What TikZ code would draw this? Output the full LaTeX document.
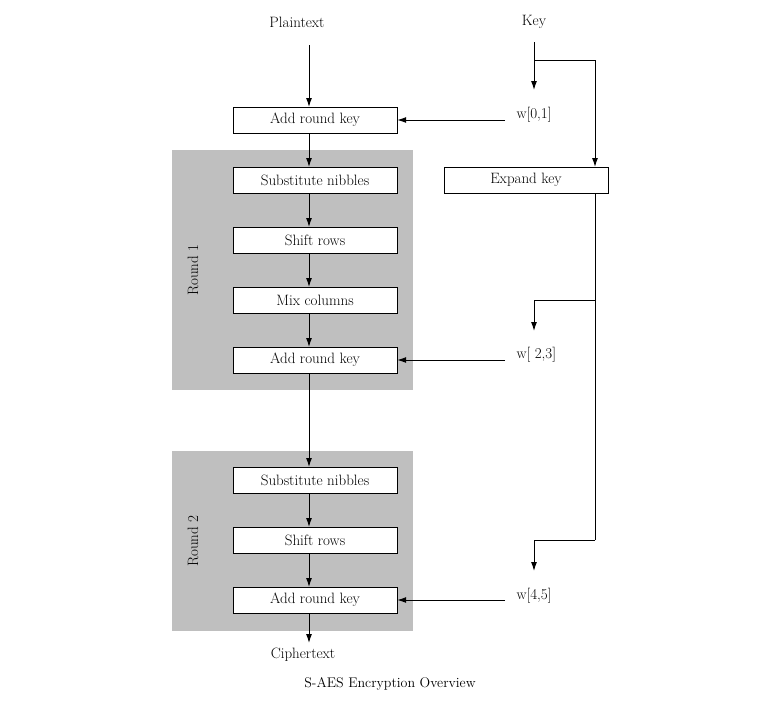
\documentclass[tikz,border=0pt]{standalone}
\usetikzlibrary{arrows.meta}
\begin{document}
\begin{tikzpicture}[x=1pt,y=-1pt,
  box/.style={draw,fill=white,minimum width=164pt,minimum height=26pt,inner sep=0pt,font=\fontsize{15}{17}\selectfont},
  lbl/.style={font=\fontsize{15}{17}\selectfont},
  arr/.style={-{Latex[length=9pt,width=6pt]},line width=1pt},
  ln/.style={line width=1pt},
  round/.style={fill=black!25,draw=none}]
\useasboundingbox (0,0) rectangle (779,712);
\fill[round] (172,150) rectangle (413,390);
\fill[round] (172,451) rectangle (413,631);
\node[lbl,rotate=90] (r1) at (193,270) {Round 1};
\node[lbl,rotate=90] (r2) at (193,541) {Round 2};
\node[lbl] (pt) at (297,22) {Plaintext};
\node[lbl] (key) at (534,22) {Key};
\node[box] (ark0) at (315,120) {Add round key};
\node[box] (sn1) at (315,180) {Substitute nibbles};
\node[box] (sr1) at (315,240) {Shift rows};
\node[box] (mc1) at (315,300) {Mix columns};
\node[box] (ark1) at (315,360) {Add round key};
\node[box] (sn2) at (315,480) {Substitute nibbles};
\node[box] (sr2) at (315,540) {Shift rows};
\node[box] (ark2) at (315,600) {Add round key};
\node[box] (ek) at (526,180) {Expand key};
\node[lbl] (ct) at (303,655) {Ciphertext};
\node[lbl,anchor=west] (w01) at (513,115) {w[0,1]};
\node[lbl,anchor=west] (w23) at (513,355) {w[ 2,3]};
\node[lbl,anchor=west] (w45) at (513,596) {w[4,5]};
\node[font=\fontsize{14}{16}\selectfont] (cap) at (390,684) {S-AES Encryption Overview};
\coordinate (c1) at (309,45);
\draw[arr] (c1) -- (309,107);
\draw[arr] (309,133) -- (309,167);
\draw[arr] (309,193) -- (309,227);
\draw[arr] (309,253) -- (309,287);
\draw[arr] (309,313) -- (309,347);
\draw[arr] (309,373) -- (309,467);
\draw[arr] (309,493) -- (309,527);
\draw[arr] (309,553) -- (309,587);
\draw[arr] (309,613) -- (309,643);
\draw[arr] (505,120) -- (ark0.east);
\draw[arr] (505,360) -- (ark1.east);
\draw[arr] (505,600) -- (ark2.east);
\draw[arr] (534,42) -- (534,90);
\draw[arr] (534,60) -- (595,60) -- (595,167);
\draw[ln] (595,193) -- (595,540);
\draw[arr] (595,300) -- (534,300) -- (534,331);
\draw[arr] (595,540) -- (534,540) -- (534,571);
\end{tikzpicture}
\end{document}
